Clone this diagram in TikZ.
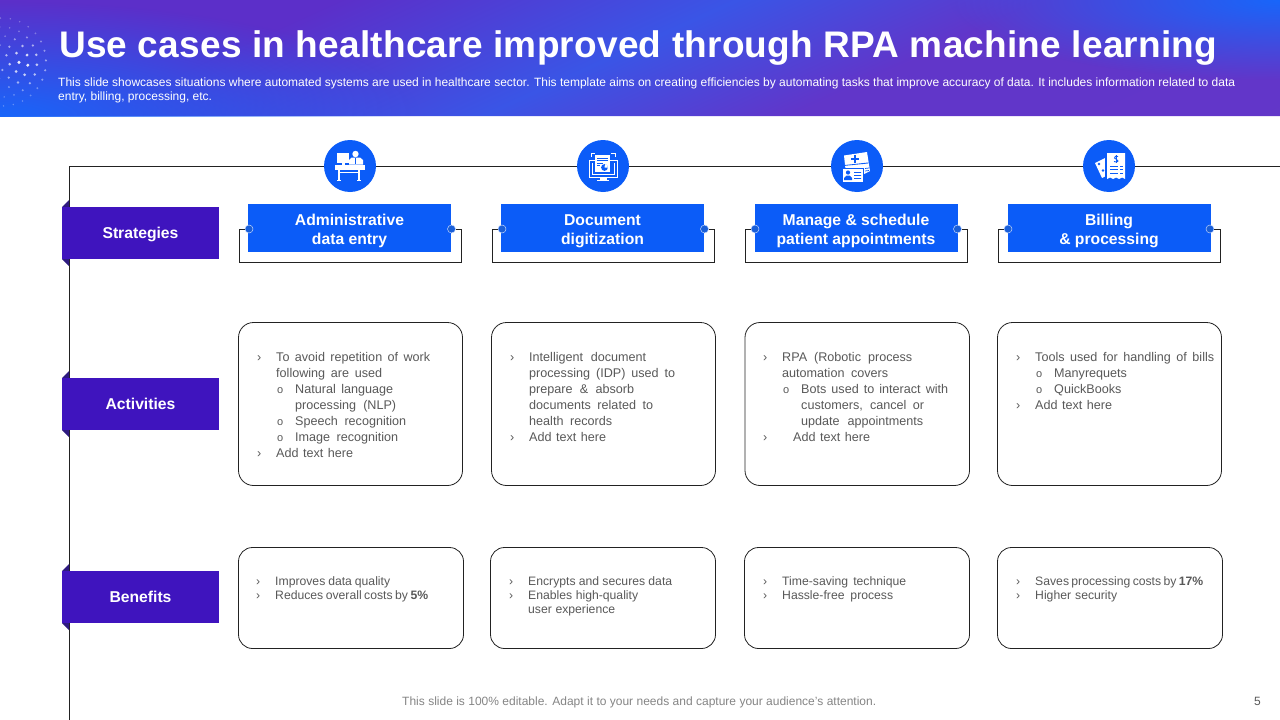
\documentclass[tikz,border=0pt]{standalone}
\usepackage{fontspec}
\setmainfont{Liberation Sans}
\newfontfamily\titlefont[LetterSpace=.6]{Liberation Sans}
\usetikzlibrary{fadings,calc}
\definecolor{mainblue}{HTML}{0B5CF8}
\definecolor{labelpurple}{HTML}{3F14BE}
\definecolor{folddark}{HTML}{2E1A80}
\definecolor{bodygray}{HTML}{595959}
\definecolor{linedark}{HTML}{222222}
\definecolor{dotblue}{HTML}{1A5FD8}
\definecolor{cornerblue}{HTML}{1866FA}
\pgfdeclarehorizontalshading{hdr}{100bp}{rgb(0bp)=(.36,.184,.788);rgb(36bp)=(.36,.184,.788);rgb(49bp)=(.227,.333,.902);rgb(59bp)=(.38,.21,.79);rgb(100bp)=(.39,.22,.78)}
\tikzfading[name=cornerfade,inner color=transparent!0,outer color=transparent!100]
\newcommand\brow[5]{\hbox{\kern#1pt\rlap{#2}\kern#3pt\makebox[#4pt][s]{#5}}}
\newcommand\bu{›}
\newcommand\so{{\fontsize{11}{11}\selectfont o}}
\newcommand\hs{\rule{0pt}{17pt}}
\tikzset{
  conn/.style={draw=linedark,line width=.9pt},
  labelbox/.style={fill=labelpurple,text=white,minimum width=157pt,minimum height=52pt,inner sep=0,text depth=4pt,text height=15pt,font=\fontsize{15.7}{19}\selectfont\bfseries},
  headbox/.style={fill=mainblue,text=white,minimum width=203pt,minimum height=48pt,inner sep=0,align=center,font=\fontsize{15.7}{19}\selectfont\bfseries},
  iconcircle/.style={circle,fill=mainblue,minimum size=52pt,inner sep=0},
  portdot/.style={circle,fill=dotblue,draw=white!75!mainblue,line width=.5pt,minimum size=8pt,inner sep=0},
  card/.style={draw=linedark,line width=.8pt,rounded corners=15pt,minimum height=0pt},
  cardtext/.style={anchor=base west,inner sep=0,text=bodygray,font=\fontsize{12.6}{16}\selectfont},
  smalltext/.style={anchor=base west,inner sep=0,text=bodygray,font=\fontsize{12.2}{14}\selectfont},
  fold/.style={fill=folddark},
  iw/.style={fill=white,draw=none},
  ib/.style={fill=mainblue,draw=none},
  ibl/.style={draw=mainblue,line width=.7pt},
  iwl/.style={draw=white,line width=1pt}
}
\begin{document}
\begin{tikzpicture}[x=1pt,y=-1pt]
\path[use as bounding box,fill=white] (0,0) rectangle (1280,720);
% header band
\begin{scope}
\clip (0,0) rectangle (1280,116);
\shade[shading=hdr,transform canvas={cm={1,0,2.2,1,(0,0)}}] (0,0) rectangle (1535,116);
\fill[cornerblue,path fading=cornerfade,fit fading=true] (0,116) ellipse (420 and 115);
\fill[cornerblue,path fading=cornerfade,fit fading=true] (1280,0) ellipse (330 and 80);
% dot globe
\foreach \r/\n in {8/5,17/11,26/16,35/22,44/28}{
  \foreach \k in {1,...,\n}{
    \pgfmathsetmacro\px{2+\r*cos(\k*360/\n+\r*2)}
    \pgfmathsetmacro\py{62+\r*sin(\k*360/\n+\r*2)}
    \pgfmathsetmacro\dd{veclen(\px-23,\py-63)}
    \pgfmathsetmacro\oo{max(.3,1-\dd/45)}
    \pgfmathsetmacro\ss{max(.8,1.8-\dd/40)}
    \fill[white,opacity=\oo] (\px,\py) circle (\ss);
  }
}
\end{scope}
% header text
\node[anchor=base west,inner sep=0,text=white,font=\titlefont\fontsize{37}{40}\selectfont\bfseries] (title) at (59,57) {Use cases in healthcare improved through RPA machine learning};
\node[anchor=base west,inner sep=0,text=white,font=\fontsize{12}{14}\selectfont] (subtitle) at (58,86) {\vtop{\baselineskip=14pt\lineskiplimit=-100pt
  \hbox{\makebox[1177pt][s]{This slide showcases situations where automated systems are used in healthcare sector. This template aims on creating efficiencies by automating tasks that improve accuracy of data. It includes information related to data}}
  \hbox{entry, billing, processing, etc.}}};
% timeline frame
\coordinate (railbottom) at (69.5,720);
\coordinate (railcorner) at (69.5,166.5);
\coordinate (railend) at (1280,166.5);
\draw[conn] (railbottom) -- (railcorner) -- (railend);
% row labels
\foreach \nm/\yy/\tx in {lblS/233/Strategies,lblA/404/Activities,lblB/597/Benefits}{
  \fill[fold] (62,\yy-26) -- (69,\yy-33) -- (69,\yy-26) -- cycle;
  \fill[fold] (62,\yy+26) -- (69,\yy+33) -- (69,\yy+26) -- cycle;
  \node[labelbox] (\nm) at (140.5,\yy) {\tx};
}
% column brackets, heads and ports
\foreach \id/\bx/\lft/\rgt/\dl/\dr/\txt in {
  a/349.5/239.5/461.5/249/451.5/{\hs Administrative\\ data entry},
  b/602.5/492.5/714.5/502/704.5/{\hs Document\\ digitization},
  c/856/745.5/967.5/755/957.5/{\hs Manage \& schedule\hspace{4pt}\\ patient appointments},
  d/1109/998.5/1220.5/1008/1210/{\hs Billing\\ \& processing}}{
  \coordinate (bl\id) at (\lft,262.5);
  \coordinate (br\id) at (\rgt,262.5);
  \node[headbox] (head\id) at (\bx,228) {\txt};
  \node[portdot] (pl\id) at (\dl,229) {};
  \node[portdot] (pr\id) at (\dr,229) {};
  \draw[conn] (pl\id.west) -| (bl\id) -- (br\id) |- (pr\id.east);
}
% icon circles
\node[iconcircle] (ica) at (350,166) {};
\node[iconcircle] (icb) at (603,166) {};
\node[iconcircle] (icc) at (857,166) {};
\node[iconcircle] (icd) at (1109,166) {};
% icon: desk
\begin{scope}[shift={(350,166)}]
  \fill[iw] (-13,-13) rectangle (-1.5,-3.5);
  \fill[iw] (-8.5,-3.5) rectangle (-5.5,-1);
  \fill[iw] (5.5,-12) circle (3.2);
  \fill[iw] (-1,-1.5) -- (-1,-6) -- (1.5,-8.5) -- (10,-8.5) -- (13,-6) -- (13,-1.5) -- cycle;
  \fill[ib] (5,-8.5) rectangle (6,-2);
  \fill[iw] (-15,-1) rectangle (14.5,3.8);
  \fill[iw] (-12,3.8) rectangle (-10.2,14);
  \fill[iw] (8,3.8) rectangle (9.8,14);
  \fill[iw] (-13,13.6) rectangle (-9.2,15);
  \fill[iw] (7,13.6) rectangle (10.8,15);
  \fill[iw] (-11,5.5) rectangle (9,7);
\end{scope}
% icon: document in monitor
\begin{scope}[shift={(603,166)}]
  \draw[iwl] (-14,-6) -- (-14,11) -- (14,11) -- (14,-6) -- (7,-6);
  \draw[iwl] (-14,-6) -- (-8,-6);
  \draw[iwl] (-11,-3) -- (-11,8) -- (11,8) -- (11,-3);
  \fill[iw] (-3.5,11) rectangle (3.5,13.5);
  \fill[iw] (-6,13.5) rectangle (6,15);
  \fill[iw] (-8,-11) -- (6.5,-11) -- (6.5,6) -- (-8,6) -- cycle;
  \draw[ibl] (-6,-8) -- (4.5,-8) (-6,-5.5) -- (4.5,-5.5) (-6,-3) -- (0,-3) (-6,-.5) -- (-3,-.5);
  \fill[ib] (1.5,1.5) circle (3.4);
  \fill[iw] (1.5,1.5) -- (4.9,1.5) arc (0:-80:3.4) -- cycle;
  \draw[iwl,line width=.8pt] (-12,-9) -- (-12,-13) -- (-8,-13) (8,-13) -- (12,-13) -- (12,-9);
\end{scope}
% icon: medical cards
\begin{scope}[shift={(857,166)}]
  \fill[iw] (-13,-10.5) -- (10,-14) -- (13,5) -- (7,8) -- (-11,8) -- cycle;
  \fill[ib] (-3.3,-11) rectangle (-0.7,-3);
  \fill[ib] (-6,-8.3) rectangle (2,-5.7);
  \fill[ib] (-12,-1) -- (11.5,-3.5) -- (11.7,-2.6) -- (-12,-.2) -- cycle;
  \fill[ib] (-15,1.5) rectangle (7,16.5);
  \fill[iw] (-14,2.5) rectangle (6,15.5);
  \fill[ib] (-9,6.5) circle (2.1);
  \fill[ib] (-13,14) -- (-13,12) -- (-10.5,9.5) -- (-7.5,9.5) -- (-5,12) -- (-5,14) -- cycle;
  \draw[ibl] (-3,6.5) -- (4,6.5) (-3,9.5) -- (4,9.5) (-3,12.5) -- (4,12.5) (8,2.5) -- (12,2) (8,5) -- (12,4.5);
\end{scope}
% icon: bill and cards
\begin{scope}[shift={(1109,166)}]
  \fill[iw] (-14,-3) -- (-4,-8) -- (3,7) -- (-7,12) -- cycle;
  \fill[ib] (-10,-2) circle (1.3);
  \fill[ib] (-6,4.5) circle (1.3);
  \fill[ib] (-4,-10) rectangle (-2,14);
  \fill[iw] (-2,-13) -- (16,-13) -- (16,13) -- (13,11.5) -- (10,13) -- (7,11.5) -- (4,13) -- (1,11.5) -- (-2,13) -- cycle;
  \draw[ibl,line width=.9pt] (9.2,-9.5) .. controls (7,-10.5) and (5,-9.5) .. (5.5,-8) .. controls (6,-6.5) and (9,-7) .. (9,-5) .. controls (9,-3.8) and (6.5,-3.5) .. (5,-4.5);
  \draw[ibl,line width=.6pt] (7.2,-11) -- (7.2,-2.8);
  \draw[ibl,line width=1pt] (1,0) -- (9,0) (11,0) -- (13.5,0) (1,3.5) -- (9,3.5) (11,3.5) -- (13.5,3.5) (1,7) -- (9,7) (11,7) -- (13.5,7);
\end{scope}
% activity cards
\foreach \id/\xa/\xb in {a/238.5/462.5,b/491.5/715.5,c/745/969.5,d/997.5/1221.5}{
  \draw[card] (\xa,322.5) rectangle (\xb,485.5);
}
\foreach \id/\xa/\xb in {a/238.5/463.5,b/490.5/715.5,c/744.5/969.5,d/997.5/1222.5}{
  \draw[card,rounded corners=14pt] (\xa,547.5) rectangle (\xb,648.5);
}
% activity text
\node[cardtext] (acta) at (257,361.5) {\vtop{\baselineskip=16pt\lineskiplimit=-100pt
  \brow{0}{\bu}{19}{154}{To avoid repetition of work}
  \brow{0}{}{19}{106}{following are used}
  \brow{20}{\so}{18}{98}{Natural language}
  \brow{20}{}{18}{101}{processing (NLP)}
  \brow{20}{\so}{18}{111}{Speech recognition}
  \brow{20}{\so}{18}{103}{Image recognition}
  \brow{0}{\bu}{19}{77}{Add text here}}};
\node[cardtext] (actb) at (510,361.5) {\vtop{\baselineskip=16pt\lineskiplimit=-100pt
  \brow{0}{\bu}{19}{117}{Intelligent document}
  \brow{0}{}{19}{146}{processing (IDP) used to}
  \brow{0}{}{19}{105}{prepare \& absorb}
  \brow{0}{}{19}{124}{documents related to}
  \brow{0}{}{19}{83}{health records}
  \brow{0}{\bu}{19}{77}{Add text here}}};
\node[cardtext] (actc) at (763,361.5) {\vtop{\baselineskip=16pt\lineskiplimit=-100pt
  \brow{0}{\bu}{19}{130}{RPA (Robotic process}
  \brow{0}{}{19}{106}{automation covers}
  \brow{20}{\so}{18}{147}{Bots used to interact with}
  \brow{20}{}{18}{123}{customers, cancel or}
  \brow{20}{}{18}{122}{update appointments}
  \brow{0}{\bu}{30}{77}{Add text here}}};
\node[cardtext] (actd) at (1016,361.5) {\vtop{\baselineskip=16pt\lineskiplimit=-100pt
  \brow{0}{\bu}{19}{179}{Tools used for handling of bills}
  \brow{20}{\so}{18}{75}{Manyrequets}
  \brow{20}{\so}{18}{71}{QuickBooks}
  \brow{0}{\bu}{19}{77}{Add text here}}};
% benefit text
\node[smalltext] (bena) at (256,585) {\vtop{\baselineskip=14pt\lineskiplimit=-100pt
  \brow{0}{\bu}{19}{115}{Improves data quality}
  \brow{0}{\bu}{19}{153}{Reduces overall costs by \textbf{5\%}}}};
\node[smalltext] (benb) at (509,585) {\vtop{\baselineskip=14pt\lineskiplimit=-100pt
  \brow{0}{\bu}{19}{144}{Encrypts and secures data}
  \brow{0}{\bu}{19}{110}{Enables high-quality}
  \brow{0}{}{19}{87}{user experience}}};
\node[smalltext] (benc) at (763,585) {\vtop{\baselineskip=14pt\lineskiplimit=-100pt
  \brow{0}{\bu}{19}{124}{Time-saving technique}
  \brow{0}{\bu}{19}{111}{Hassle-free process}}};
\node[smalltext] (bend) at (1016,585) {\vtop{\baselineskip=14pt\lineskiplimit=-100pt
  \brow{0}{\bu}{19}{168}{Saves processing costs by \textbf{17\%}}
  \brow{0}{\bu}{19}{82}{Higher security}}};
% footer
\node[anchor=base west,inner sep=0,text=black!48,font=\fontsize{12}{14}\selectfont] (foot) at (402,705) {\makebox[474pt][s]{This slide is 100\% editable. Adapt it to your needs and capture your audience's attention.}};
\node[anchor=base,inner sep=0,text=bodygray,font=\fontsize{12}{14}\selectfont] (pageno) at (1257.5,705) {5};
\end{tikzpicture}
\end{document}
